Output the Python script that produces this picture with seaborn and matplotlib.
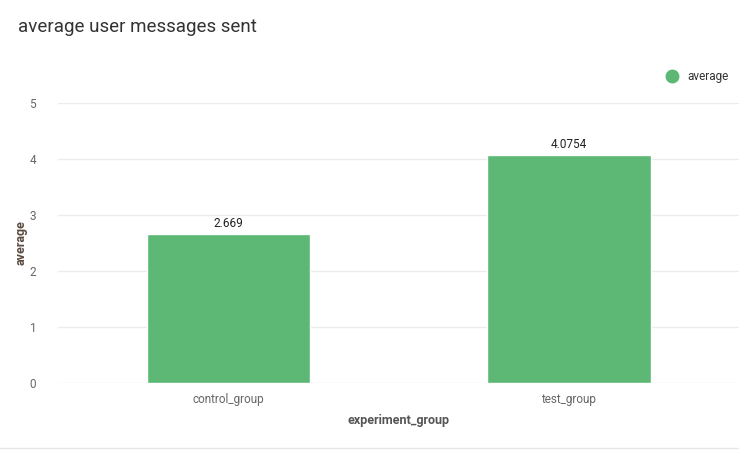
import pandas as pd
import matplotlib
matplotlib.use("Agg")
import matplotlib.pyplot as plt
import seaborn as sns
from matplotlib.lines import Line2D

# data
groups = ["control_group", "test_group"]
averages = [2.669, 4.0754]
value_labels = ["2.669", "4.0754"]
y_ticks = [0, 1, 2, 3, 4, 5]

BAR_COLOR = "#5cb874"
GRID_COLOR = "#ececec"
TICK_COLOR = "#666666"

df = pd.DataFrame({"experiment_group": groups, "average": averages})

sns.set_theme(style="white")
plt.rcParams["font.family"] = ["Roboto", "DejaVu Sans"]

fig = plt.figure(figsize=(7.39, 4.51), dpi=100)
ax = fig.add_axes([0.079, 0.1508, 0.921, 0.6208])

sns.barplot(data=df, x="experiment_group", y="average", color=BAR_COLOR,
            width=0.48, saturation=1, ax=ax, zorder=3)

ax.set_ylim(0, 5)
ax.set_xlim(-0.5, 1.5)
ax.set_yticks(y_ticks)
ax.yaxis.grid(True, color=GRID_COLOR, linewidth=1, zorder=0)
ax.set_axisbelow(True)
for s in ax.spines.values():
    s.set_visible(False)
ax.tick_params(axis="both", length=0, colors=TICK_COLOR, labelsize=8.5)
ax.tick_params(axis="y", pad=16)
ax.tick_params(axis="x", pad=7)

# value labels above bars
for i, (v, lab) in enumerate(zip(averages, value_labels)):
    ax.text(i, v + 0.07, lab, ha="center", va="bottom", fontsize=8.5, color="#222222")

ax.set_xlabel("experiment_group", fontsize=9, fontweight="bold", color="#555555", labelpad=6)
ax.set_ylabel("average", fontsize=9, fontweight="bold", color="#5a4a40")
ax.yaxis.set_label_coords(-0.045, 0.5)

fig.text(0.024, 0.94, "average user messages sent", fontsize=13.5, color="#333333", va="center")

handle = Line2D([0], [0], marker="o", linestyle="", markersize=9,
                markerfacecolor=BAR_COLOR, markeredgecolor=BAR_COLOR)
fig.legend([handle], ["average"], loc="center right", bbox_to_anchor=(1.0, 0.83),
           frameon=False, fontsize=8.5, handletextpad=0.3, labelcolor="#333333")

# footer line
fig.add_artist(Line2D([0, 1], [0.007, 0.007], color="#e6e6e6", linewidth=1))

fig.savefig("out.png", dpi=100)
